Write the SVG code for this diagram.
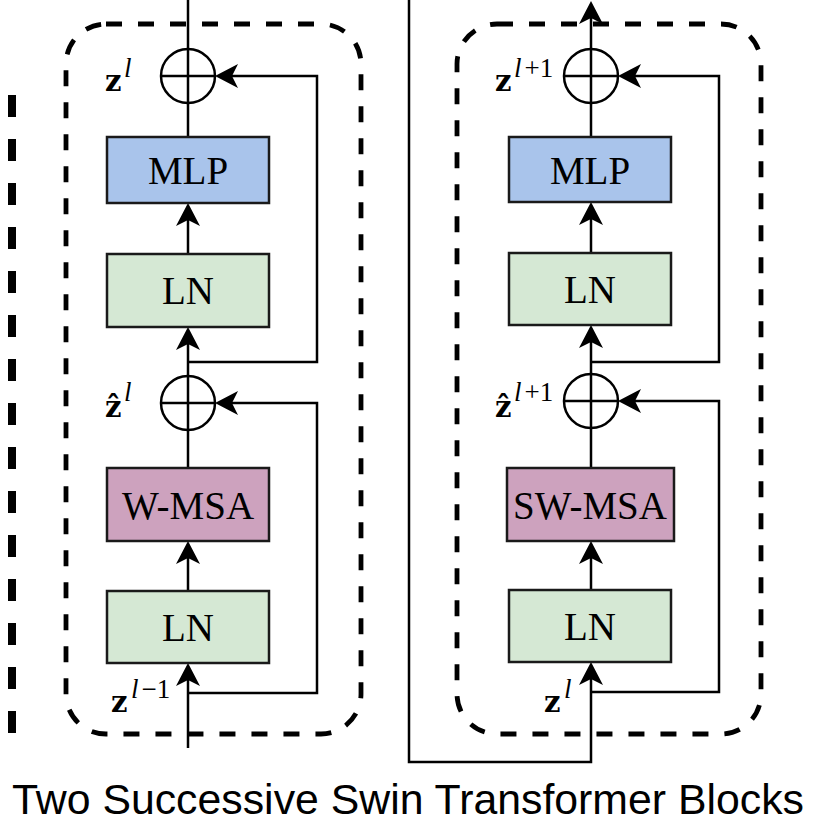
<svg xmlns="http://www.w3.org/2000/svg" width="838" height="840" viewBox="0 0 838 840">
<style>
.box{stroke:#1a1a1a;stroke-width:2.5}
.mlp{fill:#a9c4eb}.ln{fill:#d5e8d4}.msa{fill:#cda2be}
.lbl{font-family:"Liberation Serif","Times New Roman",serif;font-size:39px;fill:#000;text-anchor:middle}
.ln-c{fill:none;stroke:#000;stroke-width:2.5}
.cir{fill:none;stroke:#000;stroke-width:2.5}
.dash{fill:none;stroke:#000;stroke-width:4.8;stroke-dasharray:16 16}
.zb{font-family:"DejaVu Serif",serif;font-weight:bold;font-size:29px;fill:#000}
.sup{font-family:"Liberation Serif","Times New Roman",serif;font-size:27px;fill:#000}
.it{font-style:italic}
.cap{font-family:"Liberation Sans",Arial,sans-serif;font-size:42.8px;fill:#000}
</style>
<defs>
<marker id="arr" viewBox="-24 -13 25 26" refX="-10" refY="0" markerWidth="25" markerHeight="26" orient="auto" markerUnits="userSpaceOnUse">
<path d="M0,0 L-23,-12 L-17,0 L-23,12 Z" fill="#000"/>
</marker>
</defs>

<g id="outer-dash">
<line x1="12" y1="95" x2="12" y2="742" stroke="#000" stroke-width="8" stroke-dasharray="22 22"/>
</g>

<g id="block1-frame"><rect class="dash" x="66" y="24" width="295" height="710" rx="40"/></g>
<g id="block2-frame"><rect class="dash" x="457" y="24" width="304" height="710" rx="40"/></g>

<g id="connectors">
<path class="ln-c" d="M188,0 V137"/>
<path class="ln-c" d="M161,76 H215"/>
<path class="ln-c" d="M188,254 V213" marker-end="url(#arr)"/>
<path class="ln-c" d="M188,468 V337" marker-end="url(#arr)"/>
<path class="ln-c" d="M161,403 H215"/>
<path class="ln-c" d="M188,591 V551" marker-end="url(#arr)"/>
<path class="ln-c" d="M188,748 V673" marker-end="url(#arr)"/>
<path class="ln-c" d="M188,362 H317 V76 H225" marker-end="url(#arr)"/>
<path class="ln-c" d="M188,693 H317 V403 H225" marker-end="url(#arr)"/>

<path class="ln-c" d="M591,137 V11" marker-end="url(#arr)"/>
<path class="ln-c" d="M564,76 H618"/>
<path class="ln-c" d="M591,253 V212" marker-end="url(#arr)"/>
<path class="ln-c" d="M591,468 V335" marker-end="url(#arr)"/>
<path class="ln-c" d="M564,401 H618"/>
<path class="ln-c" d="M591,590 V551" marker-end="url(#arr)"/>
<path class="ln-c" d="M409,0 V762 H591 V672" marker-end="url(#arr)"/>
<path class="ln-c" d="M591,362 H719 V76 H628" marker-end="url(#arr)"/>
<path class="ln-c" d="M591,692 H719 V401 H628" marker-end="url(#arr)"/>
</g>

<g id="add1-top"><circle class="cir" cx="188" cy="76" r="27"/></g>
<g id="add1-bot"><circle class="cir" cx="188" cy="403" r="27"/></g>
<g id="add2-top"><circle class="cir" cx="591" cy="76" r="27"/></g>
<g id="add2-bot"><circle class="cir" cx="591" cy="401" r="27"/></g>

<g id="mlp1"><rect class="box mlp" x="107" y="137" width="162" height="66"/><text class="lbl" x="188" y="184">MLP</text></g>
<g id="ln1a"><rect class="box ln" x="107" y="254" width="162" height="73"/><text class="lbl" x="188" y="304">LN</text></g>
<g id="wmsa"><rect class="box msa" x="107" y="468" width="162" height="73"/><text class="lbl" x="188" y="519">W-MSA</text></g>
<g id="ln1b"><rect class="box ln" x="107" y="591" width="162" height="72"/><text class="lbl" x="188" y="641">LN</text></g>

<g id="mlp2"><rect class="box mlp" x="509" y="137" width="162" height="65"/><text class="lbl" x="590" y="184">MLP</text></g>
<g id="ln2a"><rect class="box ln" x="509" y="253" width="162" height="72"/><text class="lbl" x="590" y="303">LN</text></g>
<g id="swmsa"><rect class="box msa" x="507" y="468" width="167" height="73"/><text class="lbl" x="590" y="519">SW-MSA</text></g>
<g id="ln2b"><rect class="box ln" x="509" y="590" width="162" height="72"/><text class="lbl" x="590" y="640">LN</text></g>

<g id="labels">
<text class="zb" x="105" y="91">z</text><text class="sup it" x="124" y="77">l</text>
<text class="zb" x="105" y="417">ẑ</text><text class="sup it" x="124" y="401">l</text>
<text class="zb" x="111" y="712">z</text><text class="sup" x="131" y="698"><tspan class="it">l</tspan><tspan dx="3">−1</tspan></text>
<text class="zb" x="495" y="91">z</text><text class="sup" x="514" y="77"><tspan class="it">l</tspan><tspan dx="3">+1</tspan></text>
<text class="zb" x="495" y="417">ẑ</text><text class="sup" x="514" y="401"><tspan class="it">l</tspan><tspan dx="3">+1</tspan></text>
<text class="zb" x="544" y="712">z</text><text class="sup it" x="564" y="698">l</text>
</g>

<g id="caption"><text class="cap" x="12" y="814">Two Successive Swin Transformer Blocks</text></g>
</svg>
